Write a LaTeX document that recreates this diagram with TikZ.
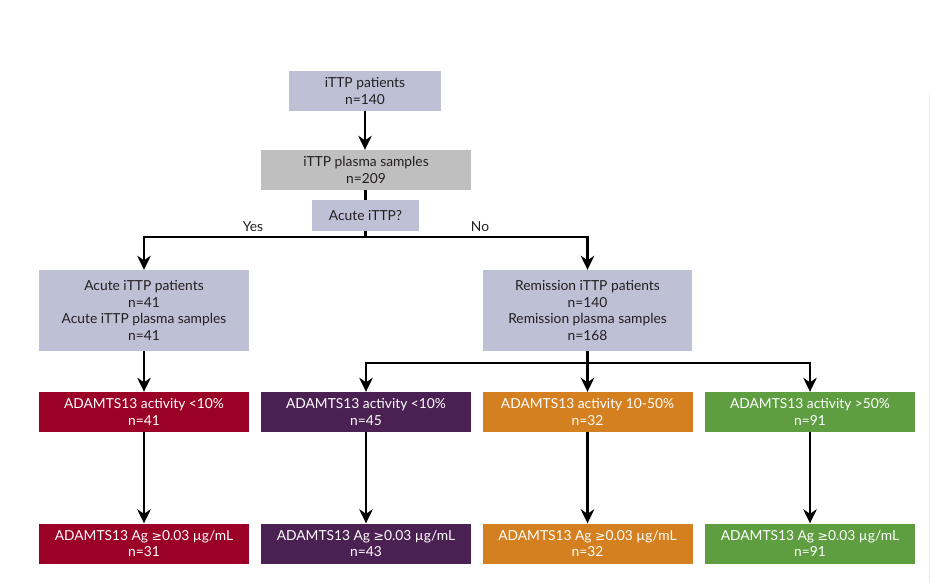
\documentclass[tikz,border=0pt]{standalone}
\usepackage{fontspec}
\setmainfont{Lato}
\newfontfamily\symfont{DejaVu Sans}
\usetikzlibrary{arrows.meta,positioning}
\definecolor{boxblue}{RGB}{190,192,213}
\definecolor{boxgray}{RGB}{192,191,192}
\definecolor{cred}{RGB}{155,0,38}
\definecolor{cpurple}{RGB}{74,33,82}
\definecolor{corange}{RGB}{213,128,32}
\definecolor{cgreen}{RGB}{94,158,65}
\definecolor{txt}{RGB}{35,31,32}
\tikzset{
  base/.style={rectangle, inner sep=0pt, align=center, font=\fontsize{13.8}{16.7}\selectfont},
  lightbox/.style={base, fill=boxblue, text=txt},
  graybox/.style={base, fill=boxgray, text=txt},
  colbox/.style={base, text=white, minimum width=210pt, minimum height=40pt},
  arr/.style={line width=2.6pt, -{Stealth[length=14pt,width=13.5pt,inset=4.5pt]}},
  ln/.style={line width=2.6pt},
  lbl/.style={font=\fontsize{13.8}{16}\selectfont, text=txt, inner sep=0pt}
}
\begin{document}
\begin{tikzpicture}[x=1pt,y=-1pt]
\useasboundingbox (0,0) rectangle (930,582);
\fill[white] (0,0) rectangle (930,582);
\draw[line width=0.8pt, black!9] (929,95) -- (929,582);
% top
\node[lightbox, minimum width=152pt, minimum height=40pt] (top) at (365,91) {iTTP patients\\n=140};
\node[graybox, minimum width=210pt, minimum height=40pt] (plasma) at (366,170) {iTTP plasma samples\\n=209};
\node[lightbox, minimum width=107pt, minimum height=31pt] (acuteq) at (365.5,215.5) {Acute iTTP?};
\node[lightbox, minimum width=210pt, minimum height=81pt] (acutep) at (144,310.5) {Acute iTTP patients\\n=41\\Acute iTTP plasma samples\\n=41};
\node[lightbox, minimum width=209pt, minimum height=81pt] (remp) at (587.5,310.5) {Remission iTTP patients\\n=140\\Remission plasma samples\\n=168};
% activity row
\node[colbox, fill=cred] (a1) at (144,412) {ADAMTS13 activity <10\%\\n=41};
\node[colbox, fill=cpurple] (a2) at (366,412) {ADAMTS13 activity <10\%\\n=45};
\node[colbox, fill=corange] (a3) at (587.5,412) {ADAMTS13 activity 10-50\%\\n=32};
\node[colbox, fill=cgreen] (a4) at (810,412) {ADAMTS13 activity >50\%\\n=91};
% antigen row
\node[colbox, fill=cred] (g1) at (144,543.5) {ADAMTS13 Ag {\symfont\fontsize{12.5}{14}\selectfont ≥}0.03 µg/mL\\n=31};
\node[colbox, fill=cpurple] (g2) at (366,543.5) {ADAMTS13 Ag {\symfont\fontsize{12.5}{14}\selectfont ≥}0.03 µg/mL\\n=43};
\node[colbox, fill=corange] (g3) at (587.5,543.5) {ADAMTS13 Ag {\symfont\fontsize{12.5}{14}\selectfont ≥}0.03 µg/mL\\n=32};
\node[colbox, fill=cgreen] (g4) at (810,543.5) {ADAMTS13 Ag {\symfont\fontsize{12.5}{14}\selectfont ≥}0.03 µg/mL\\n=91};
% labels
\node[lbl] (yes) at (253,227) {Yes};
\node[lbl] (no) at (480,227) {No};
% coordinates
\coordinate (split1) at (365.5,237);
\coordinate (split2) at (587.5,363);
% connectors
\draw[arr] (top.south) -- (top.south |- plasma.north);
\draw[ln] (plasma.south -| acuteq.north) -- (acuteq.north);
\draw[ln] (acuteq.south) -- (split1);
\draw[arr] (split1) -| (acutep.north);
\draw[arr] (split1) -| (remp.north);
\draw[arr] (acutep.south) -- (a1.north);
\draw[ln] (remp.south) -- (split2);
\draw[arr] (split2) -| (a2.north);
\draw[arr] (split2) -- (a3.north);
\draw[arr] (split2) -| (a4.north);
\draw[arr] (a1.south) -- (g1.north);
\draw[arr] (a2.south) -- (g2.north);
\draw[arr] (a3.south) -- (g3.north);
\draw[arr] (a4.south) -- (g4.north);
\end{tikzpicture}
\end{document}
